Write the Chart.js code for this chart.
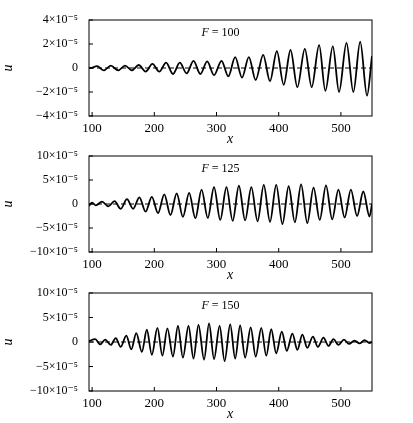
<!DOCTYPE html>
<html><head><meta charset="utf-8">
<script src="https://cdn.jsdelivr.net/npm/chart.js@4"></script>
<style>
body{margin:0;background:#fff;width:413px;height:423px;position:relative;overflow:hidden}
.p{position:absolute;left:0;width:413px}
</style></head><body>
<div class="p" style="top:0;height:148px"><canvas id="c1"></canvas></div>
<div class="p" style="top:138px;height:146px"><canvas id="c2"></canvas></div>
<div class="p" style="top:273px;height:150px"><canvas id="c3"></canvas></div>
<script>
// extrema, u in units of 1e-5
const xs1 = [95,97,108,119,130,142,153,164,175,186,197,208,219,230,241,252,263,274,285,296,308,319,330,341,352,363,375,386,397,408,419,430,442,453,465,475,487,497,509,520,531,542,550];
const us1 = [0.05,0,0.15,-0.2,0.2,-0.2,0.2,-0.2,0.25,-0.3,0.35,-0.3,0.45,-0.5,0.45,-0.45,0.6,-0.5,0.55,-0.6,0.6,-0.7,0.9,-0.8,0.9,-1.0,1.1,-1.1,1.4,-1.4,1.5,-1.6,1.6,-1.6,1.9,-1.9,1.8,-2.0,2.1,-2.0,2.2,-2.3,1.0];
const xs2 = [95,100,106,116,126,136,146,156,166,176,186,196,206,216,226,236,246,256,266,276,286,296,306,316,326,336,346,356,366,376,386,396,406,416,426,436,446,456,466,476,486,496,506,516,526,536,546,550];
const us2 = [-0.4,0.3,-0.3,0.5,-0.5,0.6,-1.0,1.0,-1.0,1.4,-1.6,1.5,-1.9,2.0,-2.3,2.2,-2.7,2.3,-3.0,3.0,-2.9,3.5,-3.3,3.5,-3.5,3.8,-3.4,3.5,-3.6,4.0,-3.7,4.0,-4.2,3.7,-3.8,4.1,-4.0,3.4,-3.3,3.9,-3.2,3.0,-2.8,3.0,-2.5,2.6,-2.6,0];
const xs3 = [95,105,113,121,130,138,146,155,163,171,180,188,196,205,213,221,230,238,246,255,263,271,280,288,296,305,313,322,330,338,346,355,363,372,380,388,396,405,413,422,430,438,446,455,463,472,480,488,496,505,513,522,530,538,546,550];
const us3 = [0.2,0.6,-0.5,0.5,-0.6,0.8,-1.0,1.3,-1.5,1.8,-2.0,2.5,-2.6,2.9,-2.8,2.8,-3.0,3.3,-3.2,3.3,-3.4,3.5,-3.6,3.8,-3.5,3.3,-3.9,3.6,-3.4,3.4,-3.2,3.0,-3.0,2.9,-2.8,2.6,-2.3,2.1,-1.8,1.7,-1.6,1.5,-1.2,1.1,-1.0,0.9,-0.8,0.6,-0.6,0.5,-0.4,0.3,-0.3,0.4,-0.2,0];
const xTicks = [100,200,300,400,500];
const yTicks1 = [-4,-2,0,2,4];
const yTicks2 = [-10,-5,0,5,10];
const titles = ['F = 100','F = 125','F = 150'];

const SERIF = "'Liberation Serif', 'DejaVu Serif', serif";
const sup = '\u00d710\u207b\u2075';

const frame = {
  id:'frame',
  afterDraw(ch, args, o){
    const {ctx, chartArea:a, scales} = ch;
    ctx.save();
    ctx.strokeStyle='#000'; ctx.lineWidth=1;
    ctx.strokeRect(a.left, a.top, a.right-a.left, a.bottom-a.top);
    ctx.beginPath();
    xTicks.forEach(t=>{ const px=scales.x.getPixelForValue(t); ctx.moveTo(px,a.bottom); ctx.lineTo(px,a.bottom-4); });
    o.yt.forEach(t=>{ const py=scales.y.getPixelForValue(t); ctx.moveTo(a.left,py); ctx.lineTo(a.left+4,py); });
    ctx.stroke();
    ctx.fillStyle='#000'; ctx.textBaseline='middle';
    ctx.textAlign='center';
    ctx.font='italic 14px '+SERIF;
    ctx.fillText('x', scales.x.getPixelForValue(322), a.bottom+23);
    const cx=(a.left+a.right)/2-10, cy=a.top+13;
    const parts=o.title.split(' = ');
    ctx.font='italic 12px '+SERIF;
    const w1=ctx.measureText(parts[0]).width;
    ctx.font='12px '+SERIF;
    const rest=' = '+parts[1], w2=ctx.measureText(rest).width;
    const sx=cx-(w1+w2)/2;
    ctx.textAlign='left';
    ctx.font='italic 12px '+SERIF; ctx.fillText(parts[0], sx, cy);
    ctx.font='12px '+SERIF; ctx.fillText(rest, sx+w1, cy);
    ctx.restore();
  }
};

function makeChart(id, xs, us, yt, title, padTop){
  const pts = xs.map((x,i)=>({x, y:us[i]}));
  const m = yt[yt.length-1];
  new Chart(document.getElementById(id), {
    type:'line',
    data:{datasets:[
      {data:pts, borderColor:'#000', borderWidth:1.8, pointRadius:0, cubicInterpolationMode:'monotone'},
      {data:[{x:95,y:0},{x:550,y:0}], borderColor:'#000', borderWidth:1.2, borderDash:[5,3], pointRadius:0}
    ]},
    options:{
      responsive:true, maintainAspectRatio:false, animation:false,
      layout:{padding:{top:padTop, right:41, left:0, bottom:0}},
      plugins:{legend:{display:false}, tooltip:{enabled:false}, frame:{yt, title}},
      scales:{
        x:{type:'linear', min:95, max:550, afterBuildTicks:s=>{s.ticks=xTicks.map(v=>({value:v}));},
           afterFit:s=>{s.height=32;},
           grid:{display:false}, border:{display:false},
           ticks:{color:'#000', font:{family:SERIF, size:13}, padding:-3, maxRotation:0}},
        y:{min:-m, max:m, afterBuildTicks:s=>{s.ticks=yt.map(v=>({value:v}));},
           afterFit:s=>{s.width=89;},
           grid:{display:false}, border:{display:false},
           ticks:{color:'#000', font:{family:SERIF, size:12}, padding:3, callback:v=>v===0?'0':String(v).replace('-','\u2212')+sup},
           title:{display:true, text:'u', color:'#000', font:{family:SERIF, size:14, style:'italic'}, padding:{top:0,bottom:4}}}
      }
    },
    plugins:[frame]
  });
}
makeChart('c1', xs1, us1, yTicks1, titles[0], 20);
makeChart('c2', xs2, us2, yTicks2, titles[1], 18);
makeChart('c3', xs3, us3, yTicks2, titles[2], 20);
</script></body></html>
